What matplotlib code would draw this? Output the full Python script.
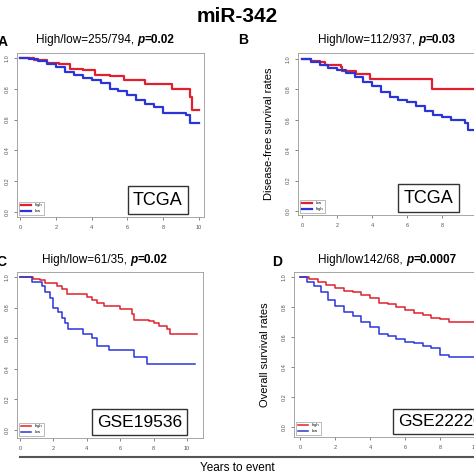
import matplotlib
matplotlib.use("Agg")
import matplotlib.pyplot as plt
from matplotlib.lines import Line2D

plt.rcParams['font.family'] = ['Liberation Sans', 'DejaVu Sans']
W = 474.0
fig = plt.figure(figsize=(4.74, 4.74), dpi=100)

# Data
a_high_t = [0, 0.8, 1.5, 2.2, 2.8, 3.5, 4.2, 5.0, 5.8, 6.2, 7.0, 8.0, 8.5, 9.5, 9.6, 10.0]
a_high_s = [1.0, 0.99, 0.97, 0.96, 0.93, 0.92, 0.89, 0.88, 0.86, 0.855, 0.83, 0.83, 0.80, 0.75, 0.66, 0.66]
a_low_t = [0, 0.5, 1, 1.5, 2, 2.5, 3, 3.5, 4, 4.5, 5, 5.5, 6, 6.5, 7, 7.5, 8, 9, 9.3, 9.5, 10]
a_low_s = [1.0, 0.995, 0.98, 0.96, 0.94, 0.91, 0.89, 0.87, 0.86, 0.84, 0.80, 0.785, 0.76, 0.73, 0.70, 0.68, 0.645, 0.645, 0.63, 0.58, 0.58]

b_low_t = [0, 0.5, 1, 1.3, 2.2, 2.3, 3.1, 3.9, 7.4, 7.45, 11]
b_low_s = [1.0, 0.99, 0.98, 0.96, 0.95, 0.92, 0.90, 0.87, 0.87, 0.80, 0.80]
b_high_t = [0, 0.5, 1, 1.5, 2, 2.5, 3, 3.5, 4, 4.5, 5, 5.5, 6, 6.5, 7, 7.5, 8, 8.5, 9, 9.3, 9.5, 10]
b_high_s = [1.0, 0.98, 0.96, 0.94, 0.93, 0.91, 0.88, 0.85, 0.82, 0.78, 0.75, 0.73, 0.72, 0.69, 0.66, 0.63, 0.62, 0.60, 0.60, 0.58, 0.53, 0.52]

c_high_t = [0, 0.8, 1.2, 1.5, 2.2, 2.5, 2.8, 4.0, 4.3, 4.6, 5.0, 6.0, 6.7, 6.8, 7.7, 8.0, 8.3, 8.8, 9.0, 10.6]
c_high_s = [1.0, 0.99, 0.98, 0.96, 0.94, 0.92, 0.89, 0.87, 0.85, 0.83, 0.81, 0.79, 0.76, 0.72, 0.71, 0.70, 0.68, 0.66, 0.63, 0.63]
c_low_t = [0, 0.7, 1.3, 1.5, 1.8, 2.0, 2.3, 2.5, 2.7, 2.9, 3.8, 4.3, 4.6, 5.3, 6.8, 7.6, 10.5]
c_low_s = [1.0, 0.97, 0.94, 0.90, 0.86, 0.80, 0.77, 0.73, 0.70, 0.66, 0.63, 0.60, 0.55, 0.52, 0.48, 0.43, 0.43]

d_high_t = [0, 0.5, 1, 1.5, 2, 2.5, 3, 3.5, 4, 4.5, 5, 5.5, 6, 6.5, 7, 7.5, 8, 8.5, 10]
d_high_s = [1.0, 0.99, 0.97, 0.95, 0.93, 0.91, 0.90, 0.88, 0.86, 0.83, 0.82, 0.80, 0.78, 0.76, 0.75, 0.73, 0.72, 0.70, 0.70]
d_low_t = [0, 0.4, 0.8, 1.2, 1.6, 2, 2.5, 3, 3.5, 4, 4.5, 5, 5.5, 6, 6.5, 7, 7.5, 8, 8.5, 10]
d_low_s = [1.0, 0.97, 0.94, 0.90, 0.85, 0.81, 0.77, 0.74, 0.70, 0.67, 0.62, 0.61, 0.59, 0.57, 0.56, 0.54, 0.53, 0.48, 0.47, 0.47]

RED = "#e0202c"
BLUE = "#2a35d8"

def make_ax(left, top, right, bottom, x0px, xunit, y1px, y0px):
    ax = fig.add_axes([left / W, 1 - bottom / W, (right - left) / W, (bottom - top) / W])
    ax.set_xlim((left - x0px) / xunit, (right - x0px) / xunit)
    yu = y0px - y1px
    ax.set_ylim(-(bottom - y0px) / yu, 1 + (y1px - top) / yu)
    ax.set_xticks([0, 2, 4, 6, 8, 10])
    ax.set_yticks([0, 0.2, 0.4, 0.6, 0.8, 1.0])
    ax.set_yticklabels(["0.0", "0.2", "0.4", "0.6", "0.8", "1.0"], rotation=90, va="center")
    ax.tick_params(labelsize=4, colors="#555555", length=2, width=0.5)
    for s in ax.spines.values():
        s.set_color("#999999"); s.set_linewidth(0.6)
    return ax

def draw(ax, curves, labels, box_txt, bx, lw, fs):
    for (t, s, c), lab in zip(curves, labels):
        ax.step(t, s, where="post", color=c, lw=lw, label=lab)
    leg = ax.legend(loc="lower left", fontsize=3, frameon=True, handlelength=2.5,
                    borderpad=0.4, fancybox=False, edgecolor="#888888")
    leg.get_frame().set_linewidth(0.5)
    ax.text(bx, 0.05, box_txt, transform=ax.transAxes, fontsize=fs, ha="left", va="bottom",
            bbox=dict(boxstyle="square,pad=0.3", fc="white", ec="#333333", lw=1))

axA = make_ax(17, 53, 204, 217, 20, 17.9, 58, 212)
draw(axA, [(a_high_t, a_high_s, RED), (a_low_t, a_low_s, BLUE)], ["high", "low"], "TCGA", 0.62, 1.6, 13)
axB = make_ax(298, 53, 490, 215, 302, 17.5, 59, 211)
draw(axB, [(b_low_t, b_low_s, RED), (b_high_t, b_high_s, BLUE)], ["low", "high"], "TCGA", 0.55, 1.6, 13)
axC = make_ax(17, 272, 203, 438, 20, 16.7, 277, 430)
draw(axC, [(c_high_t, c_high_s, RED), (c_low_t, c_low_s, BLUE)], ["high", "low"], "GSE19536", 0.43, 1.1, 12.5)
axD = make_ax(294, 272, 490, 437, 300, 17.5, 277, 427)
draw(axD, [(d_high_t, d_high_s, RED), (d_low_t, d_low_s, BLUE)], ["high", "low"], "GSE22220", 0.53, 1.1, 12.5)

axB.set_ylabel("Disease-free survival rates", fontsize=8, labelpad=8)
axD.set_ylabel("Overall survival rates", fontsize=8, labelpad=8)

fig.text(0.5, 1 - 16 / W, "miR-342", fontsize=15, fontweight="bold", ha="center", va="center")

def sub(x, y, txt, val):
    fig.canvas.draw()
    t1 = fig.text(x / W, 1 - y / W, txt, fontsize=8.5, ha="left", va="center")
    fig.canvas.draw()
    x1 = t1.get_window_extent().x1 / fig.bbox.width
    t2 = fig.text(x1, 1 - y / W, "p", fontsize=8.5, ha="left", va="center",
                  fontweight="bold", fontstyle="italic")
    fig.canvas.draw()
    x2 = t2.get_window_extent().x1 / fig.bbox.width
    fig.text(x2, 1 - y / W, val, fontsize=8.5, ha="left", va="center", fontweight="bold")

sub(36, 40, "High/low=255/794, ", "=0.02")
sub(318, 40, "High/low=112/937, ", "=0.03")
sub(42, 260, "High/low=61/35, ", "=0.02")
sub(318, 260, "High/low142/68, ", "=0.0007")
for x, y, L in [(-2, 42, "A"), (238, 40, "B"), (-4, 262, "C"), (272, 262, "D")]:
    fig.text(x / W, 1 - y / W, L, fontsize=10, fontweight="bold", ha="left", va="center")

fig.add_artist(Line2D([20 / W, 1.0], [1 - 457 / W] * 2, color="#555555", lw=1.5))
fig.text(237 / W, 1 - 468 / W, "Years to event", fontsize=8.5, ha="center", va="center")

fig.savefig("out.png", dpi=100)
